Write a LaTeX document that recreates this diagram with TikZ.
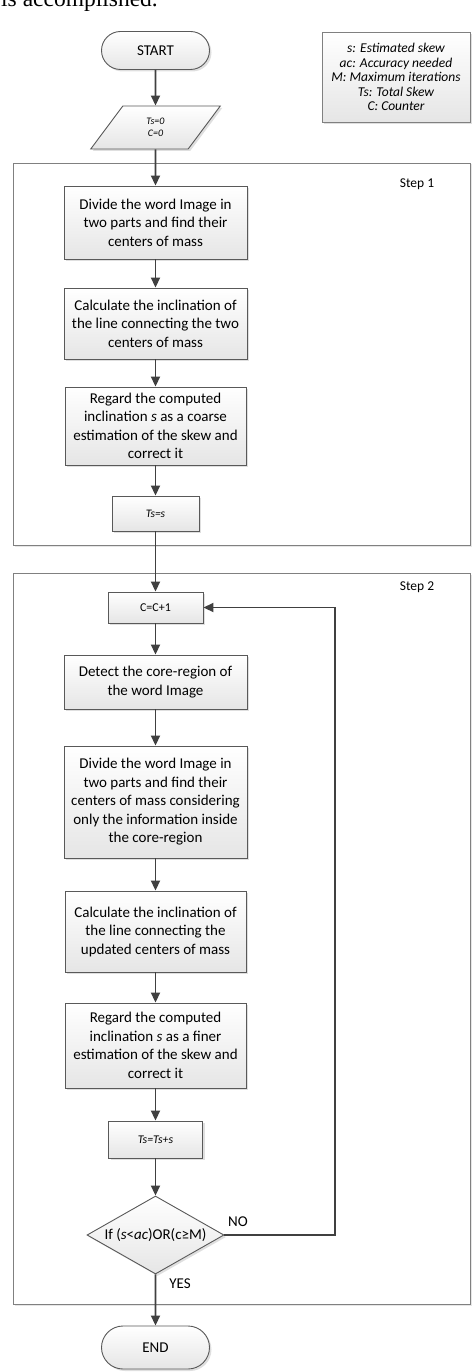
\documentclass[tikz,border=0pt]{standalone}
\usepackage{fontspec}
\setmainfont{Carlito}
\newfontfamily\capfont{Liberation Serif}
\usetikzlibrary{shapes.geometric,shapes.misc,arrows.meta,shadows}
\begin{document}
\begin{tikzpicture}[x=1pt,y=-1pt,
  shade/.style={top color=white, bottom color=black!10, drop shadow={shadow xshift=2pt,shadow yshift=-2pt,opacity=0.25}},
  box/.style={shade, draw=black!65, line width=0.9pt, align=center, inner sep=0pt, font=\fontsize{15}{18.5}\selectfont},
  smallbox/.style={box, font=\fontsize{12}{14}\selectfont},
  term/.style={box, rounded rectangle, minimum width=108pt},
  para/.style={box, trapezium, trapezium left angle=65, trapezium right angle=115, trapezium stretches=true, font=\fontsize{10}{12.5}\selectfont\itshape},
  dia/.style={box, diamond, aspect=1.76},
  frame/.style={draw=black!50, line width=0.8pt, fill=white, drop shadow={shadow xshift=1.5pt,shadow yshift=-1.5pt,opacity=0.2}, inner sep=0pt},
  legend/.style={shade, draw=black!50, line width=0.8pt, align=center, inner sep=0pt, font=\fontsize{13.5}{14.4}\selectfont\itshape},
  steplabel/.style={font=\fontsize{13.5}{16}\selectfont, inner sep=0pt},
  lbl/.style={font=\fontsize{15}{18}\selectfont, inner sep=0pt},
  arr/.style={draw=black!75, line width=1.8pt, -{Triangle[width=9pt,length=10pt]}}
]
\useasboundingbox (0,0) rectangle (474,1372);

% caption fragment (cut off at the top, as in the reference)
\node[anchor=base west, inner sep=0pt, font=\capfont\fontsize{23.5}{28}\selectfont] (cap) at (1,7) {is accomplished.};

% legend
\node[legend, minimum width=148pt, minimum height=90pt] (leg) at (396,77)
  {s: Estimated skew\\ac: Accuracy needed\\M: Maximum iterations\\Ts: Total Skew\\C: Counter};

% frames
\node[frame, minimum width=457pt, minimum height=382pt] (f1) at (241.5,354) {};
\node[frame, minimum width=457pt, minimum height=731pt] (f2) at (241.5,938.5) {};
\node[steplabel] (s1) at (417,184) {Step 1};
\node[steplabel] (s2) at (417,587) {Step 2};

% nodes
\node[term, minimum height=38pt] (start) at (155.5,50.5) {START};
\node[para, minimum width=130pt, minimum height=43pt] (init) at (155.5,127.5) {Ts=0\\C=0};

\node[box, minimum width=183pt, minimum height=73pt] (b1) at (155.5,222.5)
  {Divide the word Image in\\two parts and find their\\centers of mass};
\node[box, minimum width=183pt, minimum height=71pt] (b2) at (155.5,323.5)
  {Calculate the inclination of\\the line connecting the two\\centers of mass};
\node[box, minimum width=181pt, minimum height=78pt] (b3) at (155.5,426)
  {Regard the computed\\inclination \textit{s} as a coarse\\estimation of the skew and\\correct it};
\node[smallbox, minimum width=87pt, minimum height=35pt, font=\fontsize{11.5}{14}\selectfont\itshape] (ts1) at (155.5,513.5) {Ts=s};

\node[smallbox, minimum width=95pt, minimum height=31pt] (c1) at (155.5,607.5) {C=C+1};
\node[box, minimum width=183pt, minimum height=54pt] (d1) at (155.5,682)
  {Detect the core-region of\\the word Image};
\node[box, minimum width=183pt, minimum height=112pt] (d2) at (155.5,802)
  {Divide the word Image in\\two parts and find their\\centers of mass considering\\only the information inside\\the core-region};
\node[box, minimum width=181pt, minimum height=81pt] (d3) at (155.5,931.5)
  {Calculate the inclination of\\the line connecting the\\updated centers of mass};
\node[box, minimum width=181pt, minimum height=85pt] (d4) at (155.5,1045.5)
  {Regard the computed\\inclination \textit{s} as a finer\\estimation of the skew and\\correct it};
\node[smallbox, minimum width=94pt, minimum height=37pt, font=\fontsize{11.8}{14}\selectfont\itshape] (ts2) at (155.5,1139.5) {Ts=Ts+s};
\node[dia, minimum width=137pt, minimum height=78pt] (cond) at (155.5,1235)
  {If (\textit{s}<\textit{ac})OR(c≥M)};
\node[term, minimum height=43pt] (end) at (155.5,1347.5) {END};

\node[lbl] (no) at (238,1222) {NO};
\node[lbl] (yes) at (180,1284) {YES};
\coordinate (loopx) at (335,0);

% connectors
\draw[arr] (start) -- (init);
\draw[arr] (init) -- (b1);
\draw[arr] (b1) -- (b2);
\draw[arr] (b2) -- (b3);
\draw[arr] (b3) -- (ts1);
\draw[arr] (ts1) -- (c1);
\draw[arr] (c1) -- (d1);
\draw[arr] (d1) -- (d2);
\draw[arr] (d2) -- (d3);
\draw[arr] (d3) -- (d4);
\draw[arr] (d4) -- (ts2);
\draw[arr] (ts2) -- (cond);
\draw[arr] (cond) -- (end);
\draw[arr] (cond.east) -- (cond.east -| loopx) -- (c1.east -| loopx) -- (c1.east);
\end{tikzpicture}
\end{document}
